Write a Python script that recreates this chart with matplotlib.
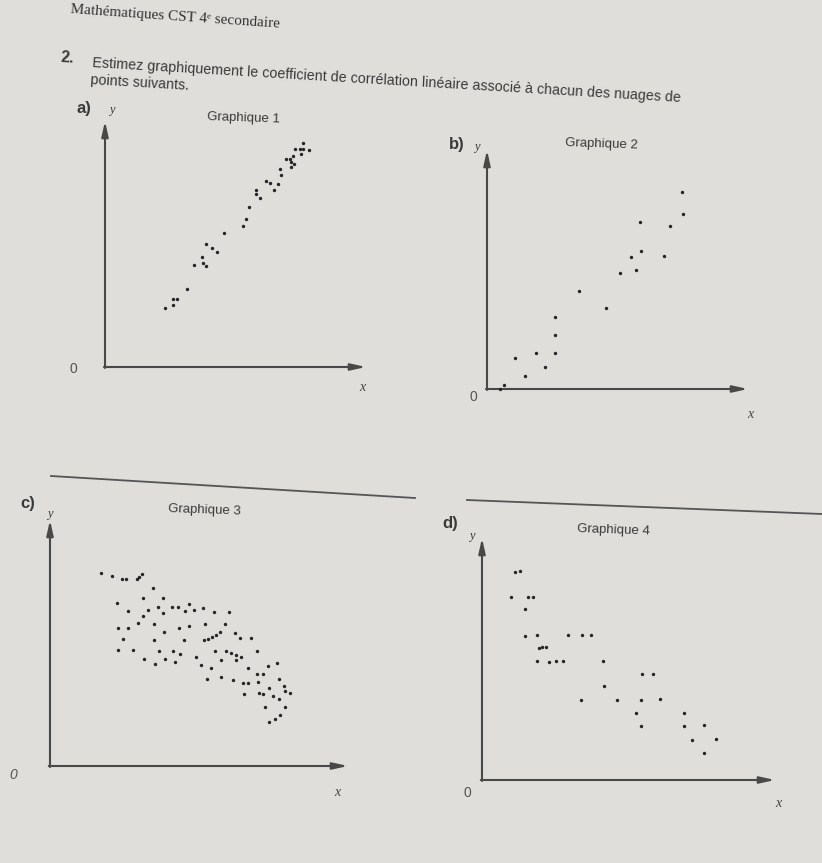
import matplotlib.pyplot as plt

W, H = 822, 863

# Graphique 1 (forte correlation positive)
g1_x = [2.29, 2.60, 2.60, 2.76, 3.14, 3.42, 3.74, 3.87, 3.72, 3.86, 4.11, 4.30, 4.55,
        5.28, 5.39, 5.52, 5.79, 5.80, 5.94, 6.15, 6.33, 6.48, 6.61, 6.70, 6.73, 6.94,
        7.09, 7.13, 7.14, 7.25, 7.22, 7.29, 7.47, 7.58, 7.50, 7.58, 7.80]
g1_y = [2.40, 2.54, 2.75, 2.75, 3.17, 4.13, 4.24, 4.12, 4.46, 5.01, 4.85, 4.69, 5.43,
        5.74, 6.00, 6.49, 7.19, 7.02, 6.87, 7.58, 7.46, 7.18, 7.45, 8.03, 7.82, 8.46,
        8.44, 8.32, 8.14, 8.27, 8.56, 8.86, 8.88, 8.87, 8.67, 9.11, 8.83]

# Graphique 2
g2_x = [0.50, 0.65, 1.09, 1.45, 1.86, 2.21, 2.62, 2.61, 2.60, 3.54, 4.57, 5.10, 5.50,
        5.71, 5.91, 5.85, 6.77, 7.02, 7.47, 7.52]
g2_y = [0.00, 0.17, 1.28, 0.54, 1.50, 0.94, 1.51, 2.26, 3.00, 4.08, 3.38, 4.84, 5.54,
        5.00, 5.78, 6.98, 5.55, 6.82, 8.23, 7.32]

# Graphique 3
g3_x = [1.72, 2.08, 2.41, 2.56, 2.91, 2.99, 3.09, 3.44, 2.25, 3.13, 3.79, 2.61, 3.28,
        3.63, 3.80, 3.13, 2.95, 4.09, 4.31, 4.52, 4.66, 4.83, 5.15, 5.51, 6.00, 2.27,
        2.61, 3.48, 4.32, 4.67, 5.19, 5.86, 2.45, 3.83, 3.49, 4.50, 5.18, 5.30, 5.43,
        5.57, 5.72, 6.22, 6.39, 6.73, 2.28, 2.80, 3.66, 4.14, 4.37, 3.16, 3.86, 3.51,
        4.19, 4.89, 5.54, 5.89, 6.06, 6.24, 6.41, 6.25, 5.74, 6.93, 5.06, 5.40, 6.64,
        7.30, 7.62, 5.26, 5.75, 6.13, 6.95, 7.14, 6.46, 6.63, 6.98, 7.67, 6.50, 7.00,
        7.16, 7.35, 7.84, 7.49, 7.70, 7.88, 8.04, 7.22, 7.88, 7.72, 7.56, 7.35]
g3_y = [7.83, 7.71, 7.59, 7.60, 7.59, 7.68, 7.80, 7.25, 6.61, 6.83, 6.81, 6.30, 6.36,
        6.48, 6.23, 6.10, 5.83, 6.45, 6.46, 6.32, 6.58, 6.34, 6.44, 6.24, 6.24, 5.63,
        5.63, 5.79, 5.59, 5.69, 5.79, 5.78, 5.18, 5.45, 5.12, 5.11, 5.11, 5.18, 5.23,
        5.31, 5.43, 5.42, 5.20, 5.19, 4.71, 4.70, 4.69, 4.67, 4.56, 4.34, 4.34, 4.13,
        4.22, 4.44, 4.67, 4.66, 4.59, 4.51, 4.43, 4.31, 4.32, 4.68, 4.10, 3.97, 3.98,
        4.07, 4.17, 3.53, 3.63, 3.51, 3.76, 3.72, 3.37, 3.38, 3.40, 3.52, 2.93, 2.96,
        2.94, 3.17, 3.24, 2.85, 2.72, 3.04, 2.95, 2.39, 2.38, 2.08, 1.92, 1.80]

# Graphique 4
g4_x = [1.14, 1.31, 1.00, 1.56, 1.74, 1.48, 1.48, 1.89, 2.94, 3.40, 3.73, 1.94, 2.06,
        2.19, 1.89, 2.30, 2.53, 2.76, 4.14, 5.47, 5.82, 4.16, 3.39, 4.61, 5.41, 6.07,
        5.26, 5.44, 6.88, 6.89, 7.56, 7.17, 7.97, 7.59]
g4_y = [8.61, 8.62, 7.55, 7.56, 7.57, 7.07, 5.97, 5.99, 5.99, 6.00, 5.99, 5.47, 5.48,
        5.48, 4.91, 4.89, 4.90, 4.91, 4.90, 4.39, 4.40, 3.87, 3.32, 3.31, 3.32, 3.33,
        2.76, 2.22, 2.78, 2.25, 2.26, 1.67, 1.68, 1.13]

titles = ["Graphique 1", "Graphique 2", "Graphique 3", "Graphique 4"]
letters = ["a)", "b)", "c)", "d)"]

paper = '#dfdedb'
ink = '#3a3a3a'
axis_col = '#484848'
sans = 'Liberation Sans'
serif = ['Liberation Serif', 'DejaVu Serif']


def box(left, top, right, bottom):
    # pixel box -> figure fraction
    return [left / W, 1 - bottom / H, (right - left) / W, (bottom - top) / H]


def draw_graph(fig, rect, xs, ys):
    ax = fig.add_axes(box(*rect))
    ax.set_xlim(0, 10)
    ax.set_ylim(0, 10)
    ax.axis('off')
    arrow = dict(arrowstyle='-|>,head_length=0.9,head_width=0.2', color=axis_col,
                 lw=1.5, shrinkA=0, shrinkB=0)
    ax.annotate('', xy=(1, 0), xytext=(-0.004, 0), xycoords='axes fraction', arrowprops=arrow)
    ax.annotate('', xy=(0, 1), xytext=(0, -0.004), xycoords='axes fraction', arrowprops=arrow)
    ax.scatter(xs, ys, s=6, color='#262626', linewidths=0, clip_on=False, zorder=3)
    return ax


fig = plt.figure(figsize=(W / 100, H / 100), dpi=100, facecolor=paper)

# page layer for the worksheet text
page = fig.add_axes([0, 0, 1, 1])
page.set_xlim(0, W)
page.set_ylim(H, 0)
page.axis('off')

page.text(70, 13, "Mathématiques CST 4\u1d49 secondaire", family=serif,
          fontsize=11, color='#333333', rotation=-4, rotation_mode='anchor',
          ha='left', va='baseline')
page.text(60, 62, "2.", family=sans, fontweight='bold', fontsize=11.5,
          color=ink, ha='left', va='baseline', rotation=-3, rotation_mode='anchor')
page.text(92, 67, "Estimez graphiquement le coefficient de corrélation linéaire associé "
          "à chacun des nuages de", family=sans, fontsize=10.3, color=ink,
          rotation=-3.4, rotation_mode='anchor', ha='left', va='baseline')
page.text(90, 84, "points suivants.", family=sans, fontsize=10.3, color=ink,
          rotation=-3.4, rotation_mode='anchor', ha='left', va='baseline')

# answer lines
page.plot([51, 415], [476, 498], color='#555555', lw=1.3)
page.plot([467, 822], [500, 514], color='#555555', lw=1.3)

rects = [(105, 121, 366, 367), (487, 150, 748, 389),
         (50, 520, 348, 766), (482, 538, 775, 780)]
data = [(g1_x, g1_y), (g2_x, g2_y), (g3_x, g3_y), (g4_x, g4_y)]

letter_pos = [(84, 108), (457, 144), (28, 503), (450, 523)]
ylab_pos = [(112, 110), (477, 147), (50, 514), (472, 536)]
title_pos = [(244, 118), (601, 144), (204, 510), (613, 530)]
zero_pos = [(73, 369), (473, 397), (13, 775), (467, 793)]
xlab_pos = [(362, 387), (750, 414), (337, 792), (778, 803)]

for i in range(4):
    draw_graph(fig, rects[i], data[i][0], data[i][1])
    page.text(*letter_pos[i], letters[i], family=sans, fontweight='bold',
              fontsize=12, color=ink, ha='center', va='center')
    page.text(*ylab_pos[i], "y", family=serif, style='italic',
              fontsize=9, color=ink, ha='center', va='center')
    page.text(*title_pos[i], titles[i], family=sans, fontsize=9.5, color=ink,
              ha='center', va='center', rotation=-2)
    page.text(*zero_pos[i], "0", family=sans,
              style='italic' if i == 2 else 'normal',
              fontsize=10, color='#555555', ha='center', va='center')
    page.text(*xlab_pos[i], "x", family=serif, style='italic',
              fontsize=10, color='#444444', ha='center', va='center')

fig.savefig('out.png', dpi=100, facecolor=paper)
